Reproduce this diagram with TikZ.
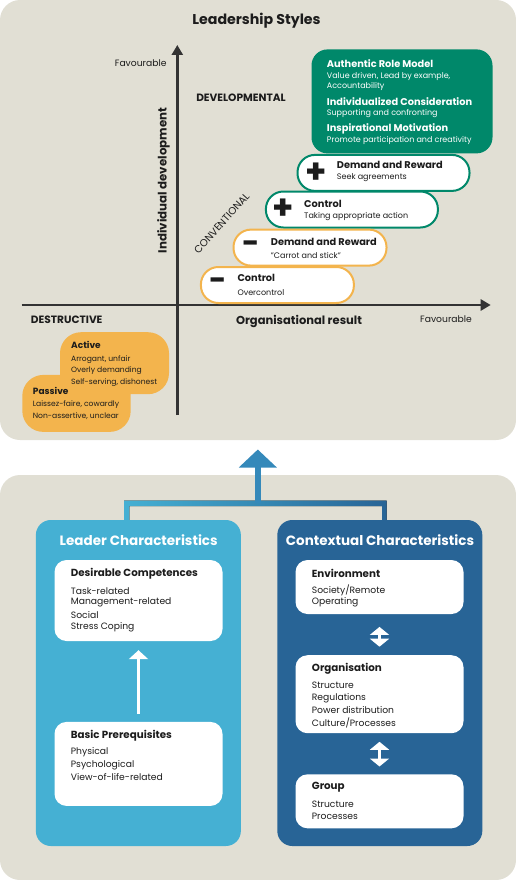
\documentclass[tikz,border=0pt]{standalone}
\usepackage{fontspec}
\setmainfont{Poppins}
\usetikzlibrary{arrows.meta,positioning,shapes.misc,calc}
\definecolor{panelbg}{HTML}{E1DFD4}
\definecolor{ink}{HTML}{1C1C1C}
\definecolor{axisgray}{HTML}{333333}
\definecolor{devgreen}{HTML}{00886A}
\definecolor{convorange}{HTML}{F3B44D}
\definecolor{leadblue}{HTML}{45B0D3}
\definecolor{ctxblue}{HTML}{286496}
\definecolor{joinblue}{HTML}{3589BA}

\begin{document}
\begin{tikzpicture}[x=1pt,y=-1pt,
panel/.style={fill=panelbg,rounded corners=20pt,minimum width=516pt},
pill/.style={draw,fill=white,line width=2pt,rounded corners=17.5pt,minimum height=36pt},
blob/.style={fill=convorange,rounded corners=21pt},
column/.style={rounded corners=15pt,minimum width=205pt,minimum height=326pt},
card/.style={fill=white,rounded corners=12pt,minimum width=168pt},
txt/.style={anchor=west,inner sep=0pt,text=ink,font=\fontsize{7.6}{9}\selectfont},
hd/.style={anchor=west,inner sep=0pt,text=ink,font=\fontsize{9}{10}\selectfont\bfseries},
gtxt/.style={txt,text=white,font=\fontsize{8}{9}\selectfont},
ghd/.style={hd,text=white,font=\fontsize{9.8}{10}\selectfont\bfseries},
ptxt/.style={txt,font=\fontsize{8}{9}\selectfont},
phd/.style={hd,font=\fontsize{9.8}{10}\selectfont\bfseries},
ctxt/.style={txt,font=\fontsize{9.2}{11}\selectfont},
chd/.style={hd,font=\fontsize{10.3}{11}\selectfont\bfseries},
sign/.style={inner sep=0pt,text=ink,font=\fontsize{34}{34}\selectfont\bfseries},
dbl/.style={white,line width=3pt,{Triangle[length=8pt,width=19pt]}-{Triangle[length=8pt,width=19pt]}}]
\useasboundingbox (0,0) rectangle (516,880);

\node[panel,minimum height=440pt] (styles) at (258,220) {};
\node[panel,minimum height=405pt] (factors) at (258,677.5) {};

\node[font=\fontsize{14.2}{16}\selectfont\bfseries,text=ink] (title) at (256.5,21) {Leadership Styles};

\coordinate (o) at (177.3,305);
\draw[axisgray,line width=2.6pt,-{Triangle[length=10pt,width=11pt]}] (177.3,415) -- (177.3,45) coordinate (ytip);
\draw[axisgray,line width=2.6pt,-{Triangle[length=10pt,width=11pt]}] (21.7,305) -- (490.7,305) coordinate (xtip);
\node[txt,anchor=east,font=\fontsize{9.2}{10}\selectfont] (fav1) at (166.7,63.3) {Favourable};
\node[txt,font=\fontsize{9.2}{10}\selectfont] (fav2) at (420,319.3) {Favourable};
\node[hd,anchor=center,rotate=90,font=\fontsize{11.8}{12}\selectfont\bfseries] (ylab) at (163.5,180.5) {Individual development};
\node[hd,anchor=center,font=\fontsize{11.5}{12}\selectfont\bfseries] (xlab) at (299,321.7) {Organisational result};
\node[hd,anchor=center,font=\fontsize{10.6}{11}\selectfont\bfseries] (dev) at (241,97.3) {DEVELOPMENTAL};
\node[hd,anchor=center,font=\fontsize{10.6}{11}\selectfont\bfseries] (dest) at (66.7,320) {DESTRUCTIVE};
\node[txt,anchor=center,rotate=48,font=\fontsize{10.2}{11}\selectfont] (conv) at (221.7,223.3) {CONVENTIONAL};

\node[fill=devgreen,rounded corners=16pt,minimum width=181pt,minimum height=104pt] (green) at (402,101.4) {};
\path (326.7,63.3) node[ghd] {Authentic Role Model}
(326.7,76) node[gtxt] {Value driven, Lead by example,}
(326.7,86.7) node[gtxt] {Accountability}
(326.7,102) node[ghd] {Individualized Consideration}
(326.7,114) node[gtxt] {Supporting and confronting}
(326.7,129) node[ghd] {Inspirational Motivation}
(326.7,140.7) node[gtxt] {Promote participation and creativity};

\node[pill,draw=devgreen,minimum width=172pt] (dr+) at (383.5,172.9) {};
\node[pill,draw=devgreen,minimum width=172pt] (c+) at (351.9,209.5) {};
\node[pill,draw=convorange,minimum width=153pt] (dr-) at (310,247.6) {};
\node[pill,draw=convorange,minimum width=153pt] (c-) at (277.4,285) {};
\node[sign] at (315.7,173.3) {+};
\node[sign] at (283.3,209.3) {+};
\node[sign,font=\fontsize{30}{30}\selectfont\bfseries] at (250.7,247.3) {−};
\node[sign,font=\fontsize{30}{30}\selectfont\bfseries] at (217.7,284) {−};
\path (336.7,165.3) node[phd] {Demand and Reward}
(336.7,177.3) node[ptxt] {Seek agreements}
(304,204) node[phd] {Control}
(304,216.7) node[ptxt] {Taking appropriate action}
(270.7,242.3) node[phd] {Demand and Reward}
(270.7,255.7) node[ptxt] {"Carrot and stick"}
(237.3,278.3) node[phd] {Control}
(237.3,292.7) node[ptxt] {Overcontrol};

\node[blob,minimum width=109pt,minimum height=62pt] (active) at (114.5,363.2) {};
\node[blob,minimum width=108.4pt,minimum height=57pt] (passive) at (76.5,403.4) {};
\path (71,345.3) node[hd] {Active}
(71,360) node[txt] {Arrogant, unfair}
(71,371) node[txt] {Overly demanding}
(71,382.7) node[txt] {Self-serving, dishonest}
(32.7,391.3) node[hd] {Passive}
(32.7,405) node[txt] {Laissez-faire, cowardly}
(32.7,415.7) node[txt] {Non-assertive, unclear};

\node[column,fill=leadblue] (lead) at (138.35,683) {};
\node[column,fill=ctxblue] (ctx) at (379.8,683) {};
\node[text=white,font=\fontsize{13.5}{15}\selectfont\bfseries] at (138.7,540) {Leader Characteristics};
\node[text=white,font=\fontsize{13.5}{15}\selectfont\bfseries] at (380,540) {Contextual Characteristics};

\fill[left color=leadblue,right color=ctxblue] ([xshift=-14.3pt]lead.north) |- ([xshift=6.9pt]ctx.north |- 0,500.7) -- ([xshift=6.9pt]ctx.north) -- ([xshift=2.2pt]ctx.north) |- ([xshift=-9pt]lead.north |- 0,506) -- ([xshift=-9pt]lead.north) -- cycle;
\coordinate (join) at (257.8,503);
\draw[joinblue,line width=5.7pt,-{Triangle[length=18pt,width=37pt]},shorten >=9.3pt] (join) -- (join |- styles.south);

\node[card,minimum height=81pt] (desir) at (138.5,600.5) {};
\node[card,minimum height=84pt] (basic) at (138.5,763.9) {};
\draw[white,line width=3pt,-{Triangle[length=9pt,width=19pt]},shorten <=8pt,shorten >=9pt] (basic.north) -- (desir.south);
\path (70.7,573.3) node[chd] {Desirable Competences}
(70.7,590.7) node[ctxt] {Task-related}
(70.7,602.5) node[ctxt] {Management-related}
(70.7,615) node[ctxt] {Social}
(70.7,627.3) node[ctxt] {Stress Coping}
(70.7,736) node[chd] {Basic Prerequisites}
(70.7,751.7) node[ctxt] {Physical}
(70.7,765) node[ctxt] {Psychological}
(70.7,777) node[ctxt] {View-of-life-related};

\node[card,minimum height=54pt] (env) at (379.5,587) {};
\node[card,minimum height=78pt] (org) at (379.5,694.2) {};
\node[card,minimum height=54pt] (grp) at (379.5,801.3) {};
\draw[dbl,shorten <=12.7pt,shorten >=8.3pt] (env.south) -- (org.north);
\draw[dbl,shorten <=8.4pt,shorten >=7.6pt] (org.south) -- (grp.north);
\path (311.7,573.3) node[chd] {Environment}
(311.7,590.7) node[ctxt] {Society/Remote}
(311.7,602.5) node[ctxt] {Operating}
(311.7,669) node[chd] {Organisation}
(311.7,685) node[ctxt] {Structure}
(311.7,698.3) node[ctxt] {Regulations}
(311.7,710) node[ctxt] {Power distribution}
(311.7,722.7) node[ctxt] {Culture/Processes}
(311.7,787.7) node[chd] {Group}
(311.7,804) node[ctxt] {Structure}
(311.7,816.7) node[ctxt] {Processes};
\end{tikzpicture}
\end{document}
